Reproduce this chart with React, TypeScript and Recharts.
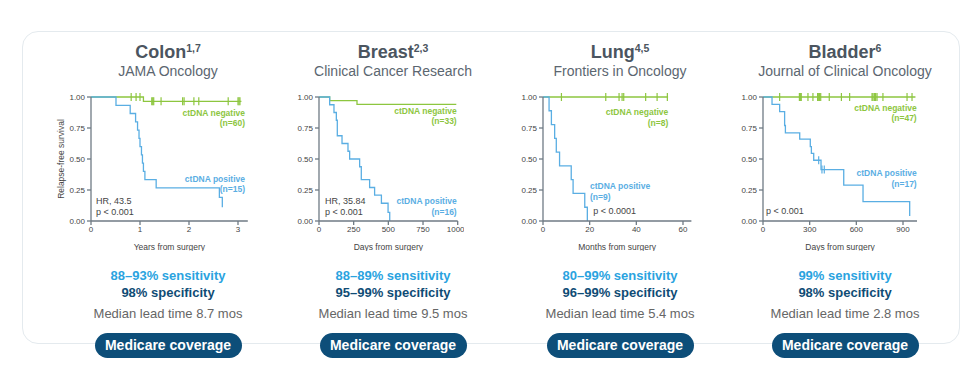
import React from 'react';
import { ComposedChart, Line, Scatter, XAxis, YAxis } from 'recharts';

const FONT = '"Liberation Sans", Arial, Helvetica, sans-serif';
const GREEN = '#8dc63f';
const BLUE = '#5aaee3';
const AXIS = '#6f7a84';

// Colon (years from surgery)
const colonNeg = [{ x: 0, y: 1 }, { x: 1.07, y: 0.965 }, { x: 3.07, y: 0.965 }];
const colonNegCensor = [
  { x: 0.82, y: 1 }, { x: 0.92, y: 1 }, { x: 1.0, y: 1 },
  { x: 1.24, y: 0.965 }, { x: 1.26, y: 0.965 }, { x: 1.28, y: 0.965 }, { x: 1.43, y: 0.965 },
  { x: 1.87, y: 0.965 }, { x: 1.9, y: 0.965 }, { x: 2.1, y: 0.965 }, { x: 2.2, y: 0.965 },
  { x: 2.8, y: 0.965 }, { x: 3.0, y: 0.965 }, { x: 3.02, y: 0.965 }, { x: 3.04, y: 0.965 },
];
const colonPos = [
  { x: 0, y: 1 }, { x: 0.51, y: 0.933 }, { x: 0.8, y: 0.867 }, { x: 0.91, y: 0.8 },
  { x: 0.95, y: 0.733 }, { x: 0.98, y: 0.667 }, { x: 1.0, y: 0.6 }, { x: 1.03, y: 0.533 },
  { x: 1.05, y: 0.467 }, { x: 1.07, y: 0.4 }, { x: 1.1, y: 0.333 }, { x: 1.33, y: 0.267 },
  { x: 2.62, y: 0.19 }, { x: 2.68, y: 0.11 },
];

// Breast (days)
const breastNeg = [{ x: 0, y: 1 }, { x: 77, y: 0.97 }, { x: 274, y: 0.94 }, { x: 990, y: 0.94 }];
const breastPos = [
  { x: 0, y: 1 }, { x: 77, y: 0.9375 }, { x: 108, y: 0.875 }, { x: 125, y: 0.8125 },
  { x: 132, y: 0.6875 }, { x: 166, y: 0.625 }, { x: 209, y: 0.5625 }, { x: 221, y: 0.5 },
  { x: 293, y: 0.4375 }, { x: 305, y: 0.333 }, { x: 365, y: 0.27 }, { x: 401, y: 0.208 },
  { x: 450, y: 0.143 }, { x: 498, y: 0.07 }, { x: 510, y: 0 },
];

// Lung (months)
const lungNeg = [{ x: 0, y: 1 }, { x: 53.6, y: 1 }];
const lungNegCensor = [7.9, 26.9, 32.6, 33.9, 34.6, 44, 48.9, 53.3].map((x) => ({ x, y: 1 }));
const lungPos = [
  { x: 0, y: 1 }, { x: 2.6, y: 0.889 }, { x: 3.6, y: 0.778 }, { x: 5.0, y: 0.667 },
  { x: 5.7, y: 0.556 }, { x: 7.1, y: 0.444 }, { x: 12.1, y: 0.333 }, { x: 12.9, y: 0.222 },
  { x: 17.9, y: 0.111 }, { x: 19, y: 0 },
];

// Bladder (days)
const bladderNeg = [{ x: 0, y: 1 }, { x: 980, y: 1 }];
const bladderNegCensor = [
  107, 234, 240, 246, 289, 321, 351, 358, 364, 371, 426, 504, 557,
  701, 707, 716, 724, 733, 771, 926, 958,
].map((x) => ({ x, y: 1 }));
const bladderPos = [
  { x: 0, y: 1 }, { x: 58, y: 0.941 }, { x: 107, y: 0.882 }, { x: 139, y: 0.77 },
  { x: 144, y: 0.71 }, { x: 236, y: 0.66 }, { x: 304, y: 0.6 }, { x: 311, y: 0.545 },
  { x: 326, y: 0.49 }, { x: 373, y: 0.415 }, { x: 519, y: 0.29 }, { x: 643, y: 0.157 },
  { x: 943, y: 0.04 },
];
const bladderPosCensor = [{ x: 358, y: 0.49 }, { x: 379, y: 0.415 }, { x: 394, y: 0.415 }];

const yTicks = [0, 0.25, 0.5, 0.75, 1];

const CensorTick = (props: any) => {
  const { cx, cy, fill } = props;
  return <line x1={cx} x2={cx} y1={cy - 4} y2={cy + 4} stroke={fill} strokeWidth={1.2} />;
};

type Note = { text: string[]; color: string; x: number; y: number; align: 'left' | 'right'; bold?: boolean };

const panels = [
  {
    title: 'Colon', sup: '1,7', journal: 'JAMA Oncology', center: 168,
    plotLeft: 90.7, plotWidth: 156.8, domain: [0, 3.2], ticks: [0, 1, 2, 3], xLabel: 'Years from surgery',
    neg: colonNeg, negCensor: colonNegCensor, pos: colonPos, posCensor: [],
    sens: '88–93% sensitivity', spec: '98% specificity', lead: 'Median lead time 8.7 mos',
    notes: [
      { text: ['ctDNA negative', '(n=60)'], color: GREEN, x: 245, y: 113, align: 'right', bold: true },
      { text: ['ctDNA positive', '(n=15)'], color: BLUE, x: 245, y: 179, align: 'right', bold: true },
      { text: ['HR, 43.5', 'p < 0.001'], color: '#444', x: 96, y: 201.5, align: 'left' },
    ] as Note[],
  },
  {
    title: 'Breast', sup: '2,3', journal: 'Clinical Cancer Research', center: 393,
    plotLeft: 319.3, plotWidth: 138.7, domain: [0, 1000], ticks: [0, 250, 500, 750, 1000], xLabel: 'Days from surgery',
    neg: breastNeg, negCensor: [], pos: breastPos, posCensor: [],
    sens: '88–89% sensitivity', spec: '95–99% specificity', lead: 'Median lead time 9.5 mos',
    notes: [
      { text: ['ctDNA negative', '(n=33)'], color: GREEN, x: 456.7, y: 111, align: 'right', bold: true },
      { text: ['ctDNA positive', '(n=16)'], color: BLUE, x: 456.7, y: 201.5, align: 'right', bold: true },
      { text: ['HR, 35.84', 'p < 0.001'], color: '#444', x: 325, y: 201.5, align: 'left' },
    ] as Note[],
  },
  {
    title: 'Lung', sup: '4,5', journal: 'Frontiers in Oncology', center: 620,
    plotLeft: 543.3, plotWidth: 148.4, domain: [0, 63.6], ticks: [0, 20, 40, 60], xLabel: 'Months from surgery',
    neg: lungNeg, negCensor: lungNegCensor, pos: lungPos, posCensor: [],
    sens: '80–99% sensitivity', spec: '96–99% specificity', lead: 'Median lead time 5.4 mos',
    notes: [
      { text: ['ctDNA negative', '(n=8)'], color: GREEN, x: 668.3, y: 112.7, align: 'right', bold: true },
      { text: ['ctDNA positive', '(n=9)'], color: BLUE, x: 590, y: 186.7, align: 'left', bold: true },
      { text: ['p < 0.0001'], color: '#444', x: 593.3, y: 211.7, align: 'left' },
    ] as Note[],
  },
  {
    title: 'Bladder', sup: '6', journal: 'Journal of Clinical Oncology', center: 845,
    plotLeft: 762.7, plotWidth: 154, domain: [0, 990], ticks: [0, 300, 600, 900], xLabel: 'Days from surgery',
    neg: bladderNeg, negCensor: bladderNegCensor, pos: bladderPos, posCensor: bladderPosCensor,
    sens: '99% sensitivity', spec: '98% specificity', lead: 'Median lead time 2.8 mos',
    notes: [
      { text: ['ctDNA negative', '(n=47)'], color: GREEN, x: 916.7, y: 108.3, align: 'right', bold: true },
      { text: ['ctDNA positive', '(n=17)'], color: BLUE, x: 916.7, y: 173.5, align: 'right', bold: true },
      { text: ['p < 0.001'], color: '#444', x: 766, y: 211.7, align: 'left' },
    ] as Note[],
  },
];

const Y_AXIS_W = 50;
const CHART_TOP = 90;
const MARGIN_TOP = 7;
const PLOT_H = 124;
const X_AXIS_H = 30;

const tickStyle = { fontSize: 8, fill: '#444', fontFamily: FONT };

export default function App() {
  return (
    <div style={{ position: 'absolute', left: 0, top: 0, width: 980, height: 389, background: '#fff', fontFamily: FONT, overflow: 'hidden' }}>
      <div style={{ position: 'absolute', left: 22, top: 31, width: 936, height: 311, border: '1.5px solid #e4eaee', borderRadius: 16 }} />

      {panels.map((p, i) => (
        <React.Fragment key={p.title}>
          <div style={{ position: 'absolute', left: p.center - 110, width: 220, top: 41, textAlign: 'center', fontSize: 18, fontWeight: 700, color: '#4b5560', lineHeight: '22px' }}>
            {p.title}
            <sup style={{ fontSize: 10.5, verticalAlign: 'top', lineHeight: '14px', position: 'relative', top: 0 }}>{p.sup}</sup>
          </div>
          <div style={{ position: 'absolute', left: p.center - 110, width: 220, top: 62, textAlign: 'center', fontSize: 14, color: '#5b6670', lineHeight: '18px' }}>
            {p.journal}
          </div>

          <div style={{ position: 'absolute', left: p.plotLeft - Y_AXIS_W, top: CHART_TOP }}>
            <ComposedChart
              width={Y_AXIS_W + p.plotWidth + 6}
              height={MARGIN_TOP + PLOT_H + X_AXIS_H}
              margin={{ top: MARGIN_TOP, right: 6, left: 0, bottom: 0 }}
            >
              <XAxis
                type="number"
                dataKey="x"
                domain={p.domain}
                ticks={p.ticks}
                allowDataOverflow
                height={X_AXIS_H}
                tick={tickStyle}
                tickSize={4}
                tickMargin={1}
                stroke={AXIS}
                strokeWidth={1.3}
                label={{ value: p.xLabel, position: 'insideBottom', offset: 1, style: { fontSize: 8.5, fill: '#444', fontFamily: FONT } }}
              />
              <YAxis
                type="number"
                dataKey="y"
                domain={[0, 1]}
                ticks={yTicks}
                width={Y_AXIS_W}
                tick={tickStyle}
                tickSize={4}
                tickMargin={2}
                tickFormatter={(v: number) => v.toFixed(2)}
                stroke={AXIS}
                strokeWidth={1.3}
                label={i === 0 ? { value: 'Relapse-free survival', angle: -90, position: 'insideLeft', offset: 20, style: { fontSize: 8.5, fill: '#444', fontFamily: FONT, textAnchor: 'middle' } } : undefined}
              />
              <Line data={p.neg} dataKey="y" type="stepAfter" stroke={GREEN} strokeWidth={1.3} dot={false} isAnimationActive={false} />
              <Line data={p.pos} dataKey="y" type="stepAfter" stroke={BLUE} strokeWidth={1.3} dot={false} isAnimationActive={false} />
              {p.negCensor.length > 0 && (
                <Scatter data={p.negCensor} dataKey="y" fill={GREEN} shape={(s: any) => <CensorTick {...s} fill={GREEN} />} isAnimationActive={false} />
              )}
              {p.posCensor.length > 0 && (
                <Scatter data={p.posCensor} dataKey="y" fill={BLUE} shape={(s: any) => <CensorTick {...s} fill={BLUE} />} isAnimationActive={false} />
              )}
            </ComposedChart>
          </div>

          {p.notes.map((n, j) => (
            <div
              key={j}
              style={{
                position: 'absolute',
                top: n.y - 5.5,
                ...(n.align === 'right' ? { right: 980 - n.x, textAlign: 'right' as const } : { left: n.x }),
                fontSize: n.bold ? 8.5 : 9,
                fontWeight: n.bold ? 700 : 400,
                color: n.color,
                lineHeight: '10.5px',
                whiteSpace: 'nowrap',
              }}
            >
              {n.text.map((t) => <div key={t}>{t}</div>)}
            </div>
          ))}

          <div style={{ position: 'absolute', left: p.center - 110, width: 220, top: 268, textAlign: 'center', fontSize: 13, fontWeight: 700, color: '#2aa3df', lineHeight: '16px' }}>{p.sens}</div>
          <div style={{ position: 'absolute', left: p.center - 110, width: 220, top: 284.5, textAlign: 'center', fontSize: 13, fontWeight: 700, color: '#0f4c75', lineHeight: '16px' }}>{p.spec}</div>
          <div style={{ position: 'absolute', left: p.center - 110, width: 220, top: 306, textAlign: 'center', fontSize: 13, color: '#666', lineHeight: '16px' }}>{p.lead}</div>
          <div style={{ position: 'absolute', left: p.center - 73.5, width: 147, height: 25, top: 333, borderRadius: 13, background: '#0d4e79', color: '#fff', fontSize: 14, fontWeight: 700, lineHeight: '25px', textAlign: 'center' }}>
            Medicare coverage
          </div>
        </React.Fragment>
      ))}
    </div>
  );
}
